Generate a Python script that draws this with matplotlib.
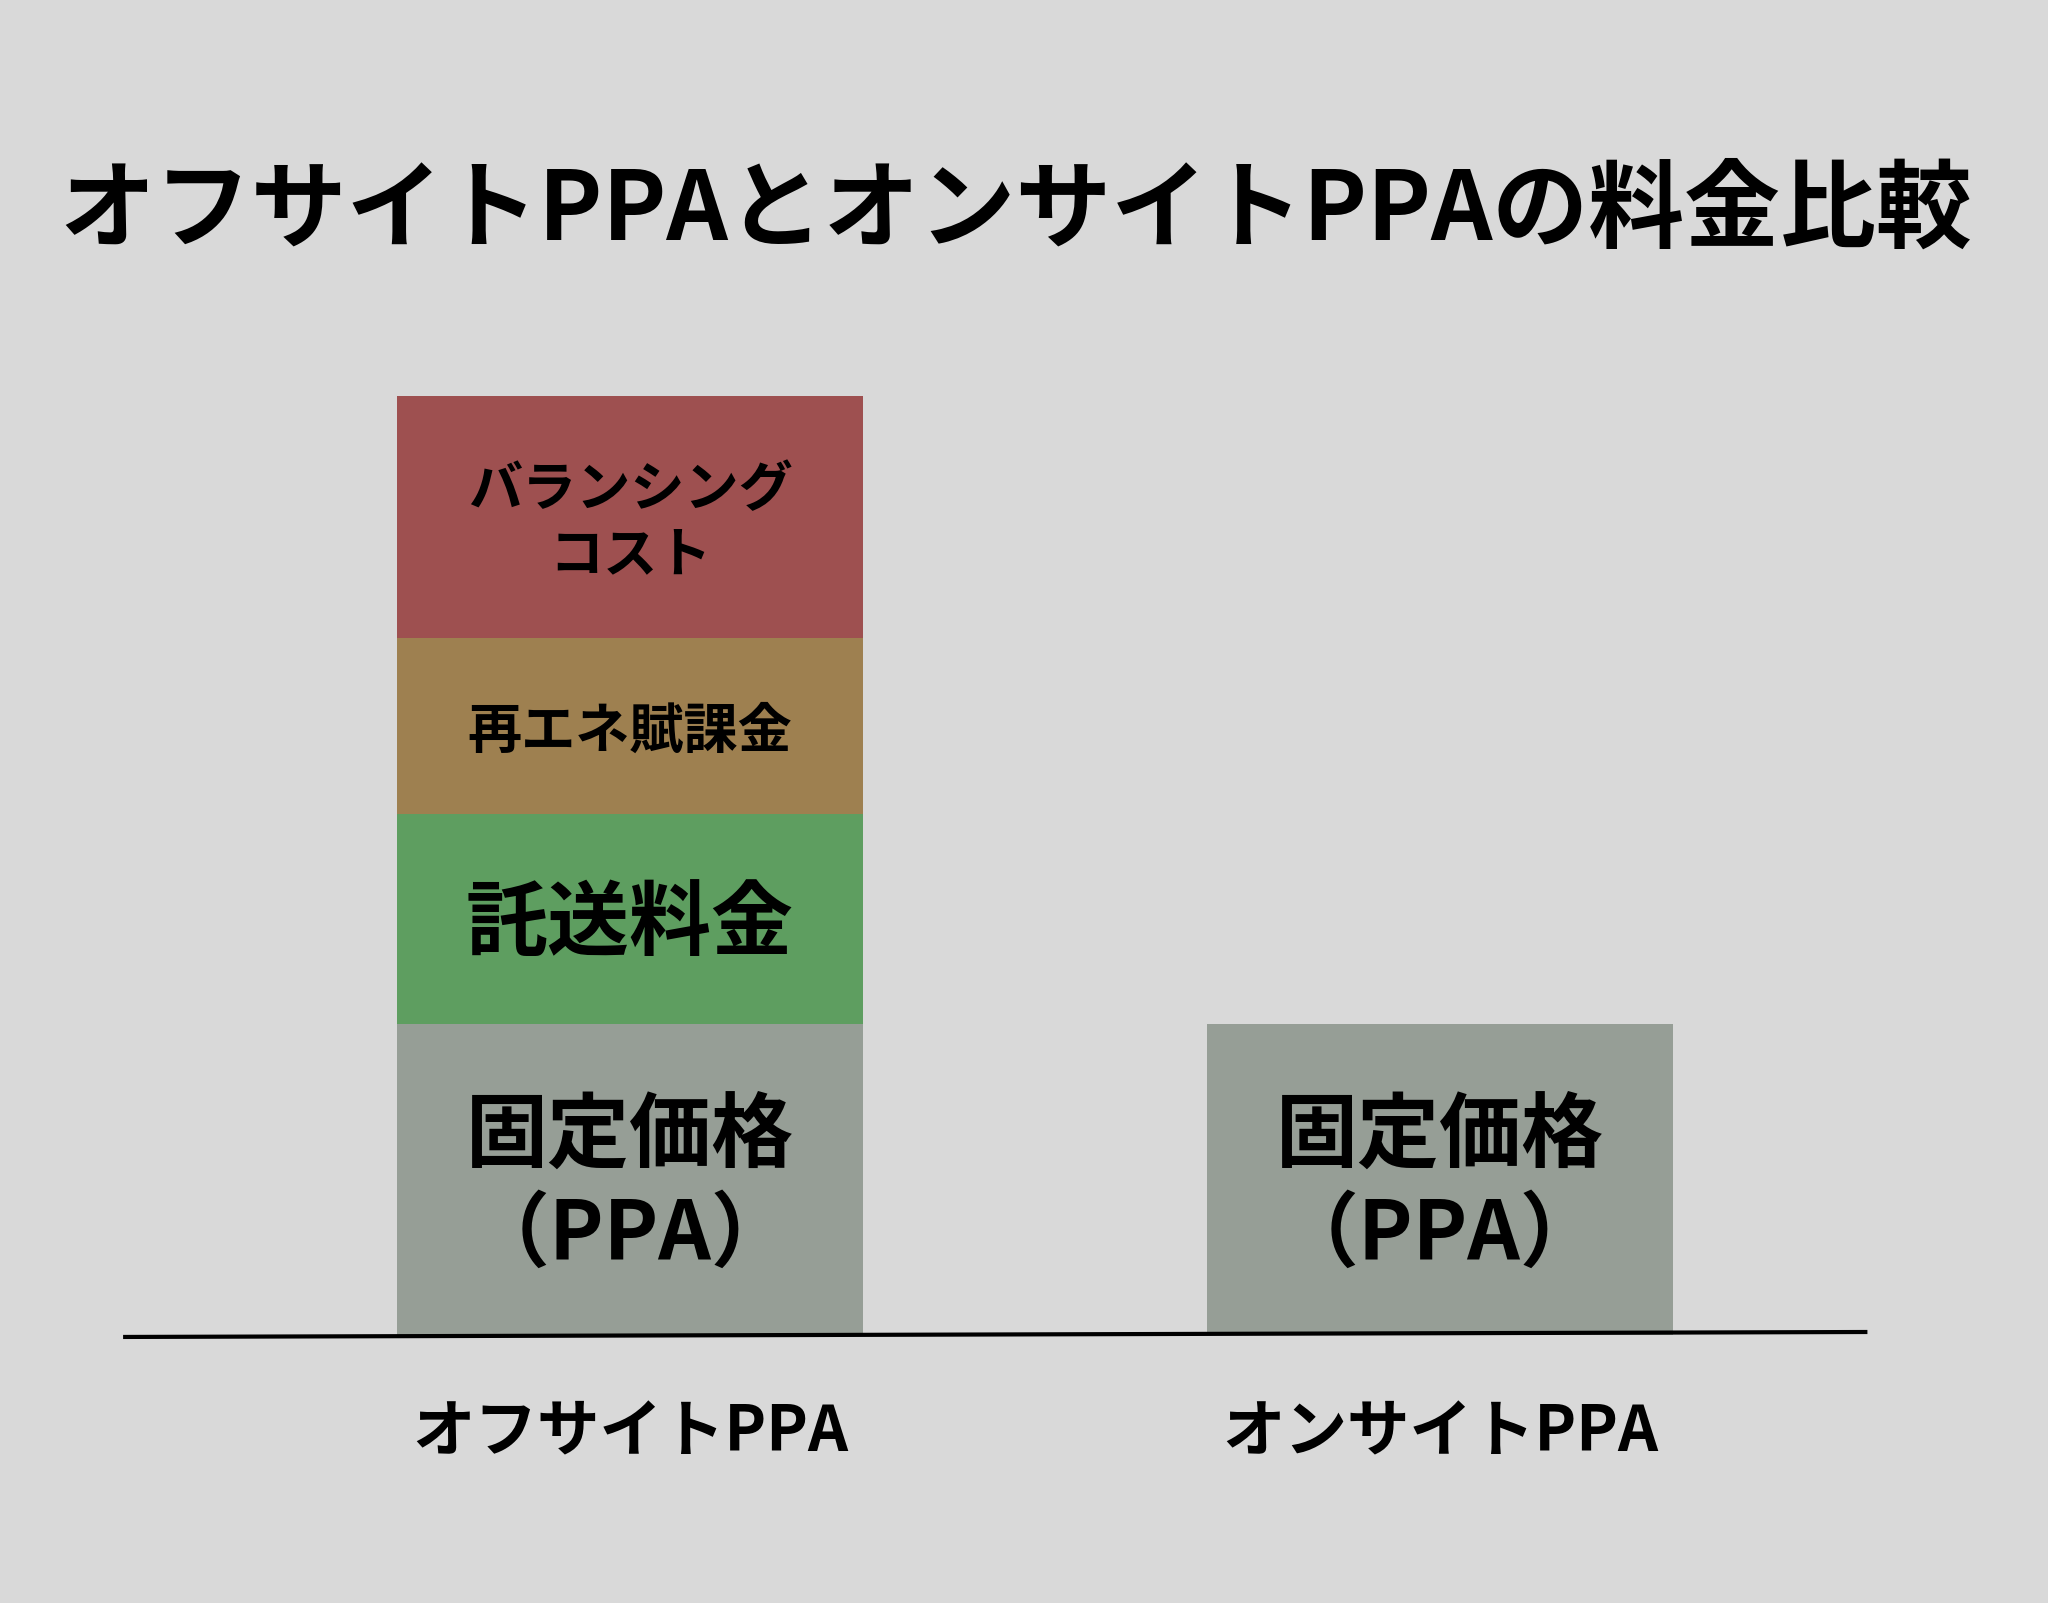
import matplotlib
matplotlib.use("Agg")
import matplotlib.pyplot as plt

plt.rcParams['font.family'] = ['Noto Sans CJK JP', 'DejaVu Sans']

# Data
categories = ["オフサイトPPA", "オンサイトPPA"]
segment_names = ["固定価格\n（PPA）", "託送料金", "再エネ賦課金", "バランシング\nコスト"]
offsite_values = [2.38, 1.61, 1.35, 1.85]
onsite_values = [2.38, 0, 0, 0]
segment_colors = ["#969E96", "#5E9E60", "#9E8050", "#9E5050"]
label_sizes = [59, 59, 39, 39]
title = "オフサイトPPAとオンサイトPPAの料金比較"

BG = "#D9D9D9"
W, H = 2048, 1603
fig = plt.figure(figsize=(W / 100, H / 100), dpi=100, facecolor=BG)
base_px = 268
ax = fig.add_axes([0, base_px / H, 1, (H - base_px) / H])
ax.set_facecolor(BG)
ax.set_xlim(-0.778, 1.751)
ax.set_ylim(0, (H - base_px) / 130.6)
ax.axis('off')

x = [0, 1]
width = 0.575
series = [offsite_values, onsite_values]
for xi, vals in zip(x, series):
    bottom = 0
    for v, c, name, fs in zip(vals, segment_colors, segment_names, label_sizes):
        if v <= 0:
            continue
        ax.bar(xi, v, width=width, bottom=bottom, color=c, edgecolor='none', zorder=2)
        ax.text(xi, bottom + v / 2 - 0.05, name, ha='center', va='center', fontsize=fs,
                fontweight='bold', color='black', linespacing=1.24, zorder=3)
        bottom += v

# baseline
ax.plot([-0.626, 1.528], [-0.015, 0.023], color='black', lw=3, zorder=4, clip_on=False,
        solid_capstyle='butt')

for xi, cat in zip(x, categories):
    ax.text(xi, -0.75, cat, ha='center', va='center', fontsize=45, fontweight='bold',
            color='black', clip_on=False)

fig.text(0.496, 0.868, title, ha='center', va='center', fontsize=69, fontweight='bold',
         color='black')

fig.savefig("out.png", dpi=100, facecolor=BG)
